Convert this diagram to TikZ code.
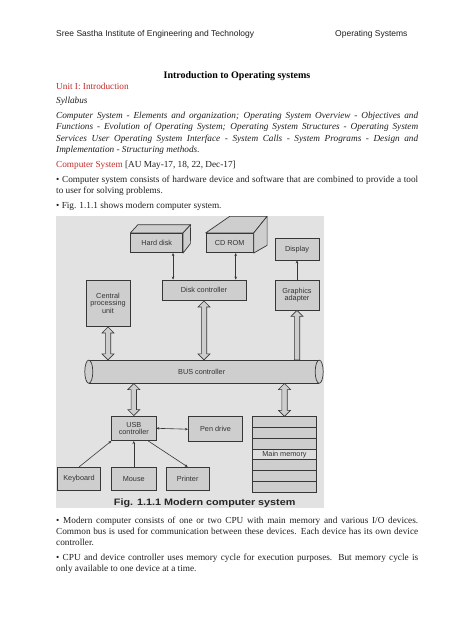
\documentclass[tikz,border=0pt]{standalone}
\usepackage{fontspec}
\usepackage{graphicx}
\setmainfont{Liberation Serif}
\newfontfamily\arial{Liberation Sans}
\usetikzlibrary{arrows.meta,calc}
\definecolor{ured}{RGB}{196,40,40}
\definecolor{figbg}{RGB}{226,226,226}
\definecolor{boxfill}{RGB}{206,206,206}
\definecolor{lightrow}{RGB}{222,222,222}
\definecolor{lineclr}{RGB}{55,55,55}
\newcommand\dblblock[2]{%
  \path[blk] let \p1=#1, \p2=#2 in
    (\x1,\y1) -- ({\x1+6pt},{\y1-6pt}) -- ({\x1+2.7pt},{\y1-6pt}) -- ({\x1+2.7pt},{\y2+6pt}) -- ({\x1+6pt},{\y2+6pt}) -- (\x1,\y2)
    -- ({\x1-6pt},{\y2+6pt}) -- ({\x1-2.7pt},{\y2+6pt}) -- ({\x1-2.7pt},{\y1-6pt}) -- ({\x1-6pt},{\y1-6pt}) -- cycle;}
\newcommand\upblock[2]{%
  \path[blk] let \p1=#1, \p2=#2 in
    (\x1,\y1) -- ({\x1+6pt},{\y1-6pt}) -- ({\x1+2.7pt},{\y1-6pt}) -- ({\x1+2.7pt},\y2)
    -- ({\x1-2.7pt},\y2) -- ({\x1-2.7pt},{\y1-6pt}) -- ({\x1-6pt},{\y1-6pt}) -- cycle;}
\begin{document}
\begin{tikzpicture}[x=1pt,y=-1pt,
  txt/.style={anchor=base west, inner sep=0pt, font=\fontsize{9.25}{11}\selectfont, text=black!88},
  hdr/.style={anchor=base west, inner sep=0pt, font=\arial\fontsize{8.5}{10}\selectfont, text=black!88},
  box/.style={draw=lineclr, fill=boxfill, line width=0.7pt, inner sep=0pt, align=center,
    font=\arial\fontsize{7.3}{7.2}\selectfont, text=black!80},
  lbl/.style={inner sep=0pt, align=center, font=\arial\fontsize{7.3}{7.2}\selectfont, text=black!80},
  face/.style={draw=lineclr, fill=boxfill, line width=0.7pt, line join=round},
  tarr/.style={draw=lineclr, line width=0.6pt, {Stealth[length=3pt,width=2.6pt]}-{Stealth[length=3pt,width=2.6pt]}},
  tarrone/.style={draw=lineclr, line width=0.6pt, -{Stealth[length=3pt,width=2.6pt]}},
  blk/.style={draw=lineclr, fill=boxfill, line width=0.6pt, line join=miter},
]
\useasboundingbox[fill=white] (0,0) rectangle (474,632);

% header
\node[hdr] (hleft) at (56,36.5) {Sree Sastha Institute of Engineering and Technology};
\node[hdr] (hright) at (335,36.5) {Operating Systems};

% title
\node[anchor=base, inner sep=0pt, font=\bfseries\fontsize{10}{12}\selectfont] (title) at (237,78) {Introduction to Operating systems};
\node[txt, text=ured] (unit) at (56,89) {Unit I: Introduction};
\node[txt, font=\itshape\fontsize{9.25}{11}\selectfont] (syl) at (56,103.2) {Syllabus};
\node[txt, font=\itshape\fontsize{9.25}{11}\selectfont] (s1) at (56,118.5) {\makebox[362pt][s]{Computer System - Elements and organization; Operating System Overview - Objectives and}};
\node[txt, font=\itshape\fontsize{9.25}{11}\selectfont] (s2) at (56,129.8) {\makebox[362pt][s]{Functions - Evolution of Operating System; Operating System Structures - Operating System}};
\node[txt, font=\itshape\fontsize{9.25}{11}\selectfont] (s3) at (56,141) {\makebox[362pt][s]{Services User Operating System Interface - System Calls - System Programs - Design and}};
\node[txt, font=\itshape\fontsize{9.25}{11}\selectfont] (s4) at (56,152.2) {Implementation - Structuring methods.};
\node[txt] (cs) at (56,167.2) {\textcolor{ured}{Computer System} [AU May-17, 18, 22, Dec-17]};
\node[txt] (b1a) at (56,182.3) {\makebox[362pt][s]{• Computer system consists of hardware device and software that are combined to provide a tool}};
\node[txt] (b1b) at (56,193.3) {to user for solving problems.};
\node[txt] (b2) at (56,208.3) {• Fig. 1.1.1 shows modern computer system.};

% figure background
\fill[figbg] (56,216) rectangle (324,508);

% hard disk
\node[box, minimum width=52, minimum height=19.4] (hd) at (156.7,243) {Hard disk};
\path[face] (hd.north west) -- ++(7.6,-8.3) -- ($(hd.north east)+(7.6,-8.3)$) -- (hd.north east) -- cycle;
\path[face] (hd.north east) -- ++(7.6,-8.3) -- ($(hd.south east)+(7.3,-9.4)$) -- (hd.south east) -- cycle;
% CD ROM
\node[box, minimum width=47.3, minimum height=19.4] (cd) at (229.7,243) {CD ROM};
\path[face] (cd.north west) -- ($(cd.north west)+(24,-16.6)$) -- ($(cd.north east)+(13.4,-16.6)$) -- (cd.north east) -- cycle;
\path[face] (cd.north east) -- ($(cd.north east)+(13.4,-16.6)$) -- ($(cd.south east)+(13.4,-7.7)$) -- (cd.south east) -- cycle;

\node[box, minimum width=44.3, minimum height=21.3] (disp) at (297,249.3) {Display};
\node[box, minimum width=44.3, minimum height=30] (ga) at (297,295) {Graphics\\adapter};
\node[box, minimum width=84.3, minimum height=20.7] (dc) at (204,290.3) {Disk controller};
\node[box, minimum width=44, minimum height=46.7] (cpu) at (108,303.3) {Central\\processing\\unit};

% bus
\node[inner sep=0pt, minimum width=238, minimum height=23.3] (bus) at (204,371.7) {};
\fill[boxfill] ($(bus.north west)+(4,0)$) rectangle ($(bus.south east)+(-4,0)$);
\draw[lineclr, line width=0.7pt] ($(bus.north west)+(4,0)$) -- ($(bus.north east)+(-4,0)$);
\draw[lineclr, line width=0.7pt] ($(bus.south west)+(4,0)$) -- ($(bus.south east)+(-4,0)$);
\path[face] ($(bus.west)+(4,0)$) ellipse [x radius=4, y radius=11.65];
\path[face] ($(bus.east)+(-4,0)$) ellipse [x radius=4, y radius=11.65];
\node[lbl] (buslbl) at (201.7,371.7) {BUS controller};

\node[box, minimum width=44.3, minimum height=24.7] (usb) at (133.8,428.3) {USB\\controller};
\node[box, minimum width=54.4, minimum height=25] (pen) at (215.5,429.2) {Pen drive};
\node[box, minimum width=43.4, minimum height=23.4] (kbd) at (79,479) {Keyboard};
\node[box, minimum width=44.3, minimum height=23.4] (mouse) at (133.8,479) {Mouse};
\node[box, minimum width=43.3, minimum height=23.4] (printer) at (187.7,479) {Printer};

% main memory
\node[box, minimum width=63.6, minimum height=76] (mm) at (284.5,454.7) {};
\fill[lightrow] ($(mm.north west)+(0.4,32.57)$) rectangle ($(mm.north east)+(-0.4,43.43)$);
\foreach \i in {1,...,6} \draw[lineclr, line width=0.7pt] ($(mm.north west)+(0,\i*10.857)$) -- ($(mm.north east)+(0,\i*10.857)$);
\node[lbl] (mmlbl) at (mm.center) {Main memory};

% thin connectors
\coordinate (hdA) at ($(hd.south east)+(-10,0)$);
\coordinate (cdA) at ($(cd.south east)+(-18,0)$);
\draw[tarr] (hdA) -- (hdA |- dc.north);
\draw[tarr] (cdA) -- (cdA |- dc.north);
\draw[tarrone] (ga.north) -- (disp.south);
\draw[tarr] (usb.east) -- (pen.west);
\draw[tarrone] (kbd.north) -- (usb.south west);
\draw[tarrone] (mouse.north) -- (usb.south);
\coordinate (usbP) at ($(usb.south)+(14.5,0)$);
\draw[tarrone] (usbP) -- (printer.north);

% block arrows
\dblblock{(cpu.south)}{(cpu.south |- bus.north)}
\dblblock{(dc.south)}{(dc.south |- bus.north)}
\upblock{(ga.south)}{(ga.south |- bus.north)}
\dblblock{(usb.north |- bus.south)}{(usb.north)}
\dblblock{(mm.north |- bus.south)}{(mm.north)}

% caption
\node[inner sep=0pt, font=\arial\bfseries\fontsize{9.3}{11}\selectfont, text=black!85] (cap) at (204.7,503.3) {\scalebox{1.16}[1]{Fig. 1.1.1 Modern computer system}};

% lower text
\node[txt] (c1) at (56,523) {\makebox[362pt][s]{• Modern computer consists of one or two CPU with main memory and various I/O devices.}};
\node[txt] (c2) at (56,534.3) {\makebox[362pt][s]{Common bus is used for communication between these devices. Each device has its own device}};
\node[txt] (c3) at (56,545.7) {controller.};
\node[txt] (d1) at (56,560.3) {\makebox[362pt][s]{• CPU and device controller uses memory cycle for execution purposes. But memory cycle is}};
\node[txt] (d2) at (56,571.7) {only available to one device at a time.};
\end{tikzpicture}
\end{document}
